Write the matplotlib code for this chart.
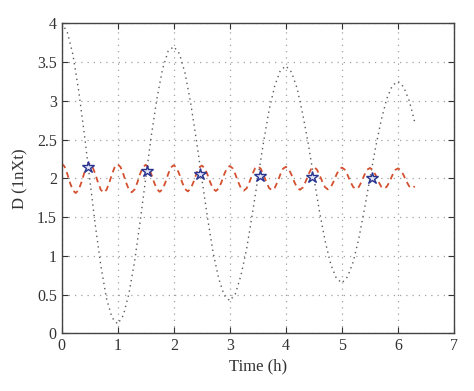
import numpy as np
import matplotlib
matplotlib.use("Agg")
import matplotlib.pyplot as plt

plt.rcParams['font.family'] = ['Liberation Serif', 'DejaVu Serif']

# Dotted gray series (t = 0 .. 6.3 step 0.1)
time_dot = np.round(np.arange(0, 6.301, 0.1), 2)
d_dot = [4.00, 3.89, 3.60, 3.15, 2.60, 2.00, 1.40, 0.87, 0.45, 0.20,
         0.12, 0.23, 0.51, 0.92, 1.44, 2.00, 2.55, 3.03, 3.41, 3.64,
         3.70, 3.61, 3.36, 2.98, 2.51, 2.00, 1.50, 1.05, 0.71, 0.49,
         0.42, 0.51, 0.75, 1.09, 1.53, 2.00, 2.46, 2.88, 3.19, 3.39,
         3.45, 3.37, 3.16, 2.83, 2.44, 2.00, 1.57, 1.19, 0.89, 0.71,
         0.65, 0.73, 0.92, 1.22, 1.60, 2.00, 2.40, 2.75, 3.03, 3.20,
         3.25, 3.18, 3.00, 2.72]

# Red dashed series (t = 0 .. 6.3 step 0.05)
time_dash = np.round(np.arange(0, 6.301, 0.05), 2)
d_dash = [2.190, 2.154, 2.059, 1.941, 1.846, 1.810, 1.846, 1.941, 2.059, 2.154,
          2.185, 2.150, 2.057, 1.943, 1.850, 1.815, 1.850, 1.943, 2.057, 2.150,
          2.180, 2.146, 2.056, 1.944, 1.854, 1.820, 1.854, 1.944, 2.056, 2.146,
          2.174, 2.141, 2.054, 1.946, 1.859, 1.826, 1.859, 1.946, 2.054, 2.141,
          2.169, 2.137, 2.052, 1.948, 1.863, 1.831, 1.863, 1.948, 2.052, 2.137,
          2.164, 2.133, 2.051, 1.949, 1.867, 1.836, 1.867, 1.949, 2.051, 2.133,
          2.159, 2.129, 2.049, 1.951, 1.871, 1.841, 1.871, 1.951, 2.049, 2.129,
          2.154, 2.125, 2.048, 1.952, 1.875, 1.846, 1.875, 1.952, 2.048, 2.125,
          2.148, 2.120, 2.046, 1.954, 1.880, 1.852, 1.880, 1.954, 2.046, 2.120,
          2.143, 2.116, 2.044, 1.956, 1.884, 1.857, 1.884, 1.956, 2.044, 2.116,
          2.138, 2.112, 2.043, 1.957, 1.888, 1.862, 1.888, 1.957, 2.043, 2.112,
          2.133, 2.108, 2.041, 1.959, 1.892, 1.867, 1.892, 1.959, 2.041, 2.108,
          2.128, 2.104, 2.040, 1.960, 1.896, 1.872, 1.896]

# Star markers
time_star = [0.47, 1.52, 2.47, 3.54, 4.47, 5.54]
d_star = [2.15, 2.09, 2.06, 2.03, 2.02, 2.01]

xticks = [0, 1, 2, 3, 4, 5, 6, 7]
yticks = [0, 0.5, 1, 1.5, 2, 2.5, 3, 3.5, 4]
yticklabels = ['0', '0.5', '1', '1.5', '2', '2.5', '3', '3.5', '4']

fig = plt.figure(figsize=(4.74, 3.91), dpi=100)
ax = fig.add_axes([0.130, 0.1476, 0.828, 0.7928])

ax.plot(time_dot, d_dot, linestyle=(0, (1, 2.8)), color='#5a5a5a', linewidth=1.0)
ax.plot(time_dash, d_dash, linestyle=(0, (3.2, 2.4)), color='#d4502f', linewidth=1.3)
ax.plot(time_star, d_star, linestyle='none', marker='*', markersize=9,
        markerfacecolor='#e3e7f5', markeredgecolor='#2a3590', markeredgewidth=1.0)

ax.set_xlim(0, 7)
ax.set_ylim(0, 4)
ax.set_xticks(xticks)
ax.set_yticks(yticks)
ax.set_yticklabels(yticklabels)
ax.grid(True, linestyle=(0, (1, 4)), color='#a0a0a0', linewidth=0.9)
ax.tick_params(direction='in', top=True, right=True, labelsize=11.5, colors='#333333', length=4)
for s in ax.spines.values():
    s.set_color('#444444')
    s.set_linewidth(1.0)
ax.set_xlabel('Time (h)', fontsize=12, color='#333333', labelpad=3)
ax.set_ylabel('D (1nXt)', fontsize=12, color='#333333', labelpad=6)

fig.savefig('out.png', dpi=100)
